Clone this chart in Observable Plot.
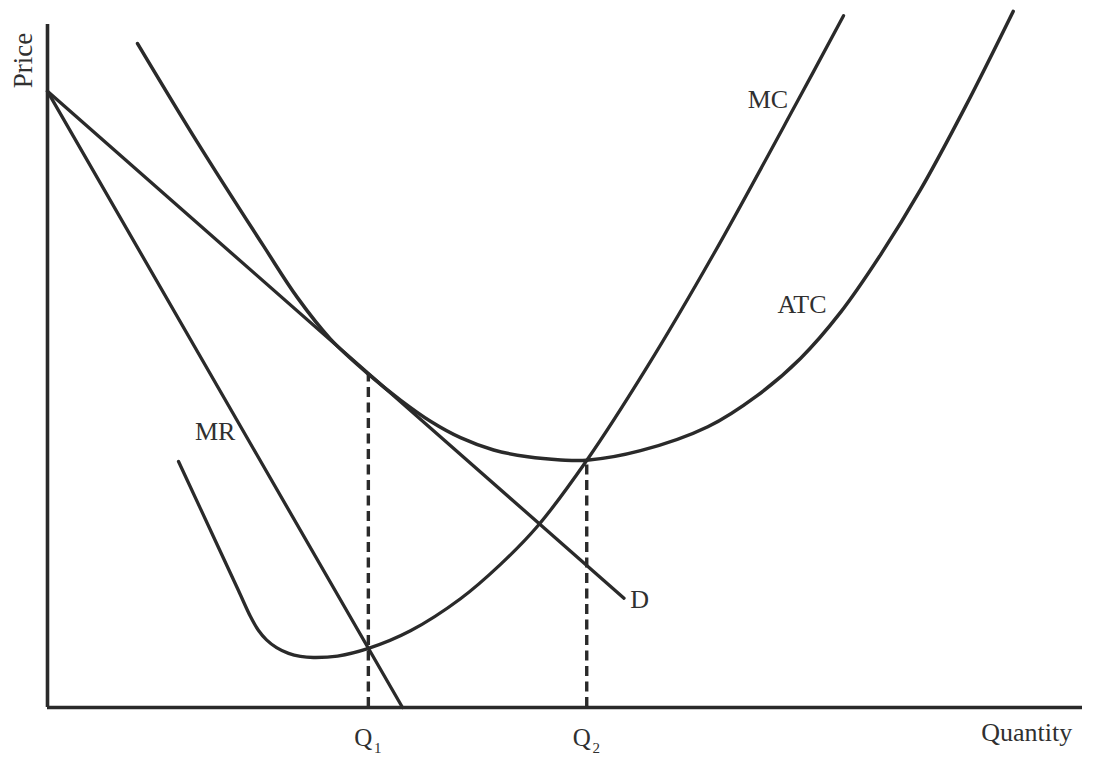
<!DOCTYPE html>
<html>
<head>
<meta charset="utf-8">
<script src="https://cdn.jsdelivr.net/npm/d3@7"></script>
<script src="https://cdn.jsdelivr.net/npm/@observablehq/plot@0.6"></script>
<style>
  html, body { margin: 0; padding: 0; background: #fff; }
  #chart svg { display: block; }
</style>
</head>
<body>
<div id="chart"></div>
<script>
// Quantity / price coordinates (arbitrary units, axes 0–100)
const demand = [ {q: 0, p: 90.2}, {q: 55.7, p: 16.0} ];
const marginalRevenue = [ {q: 0, p: 90.2}, {q: 34.3, p: 0} ];
const atcQ = [8.7, 14.5, 20.9, 24.15, 27.3, 31.0, 34.1, 37.0, 39.9, 43.1, 46.4, 49.6, 52.1, 57.3, 63.8, 68.6, 72.75, 76.6, 80.5, 84.35, 88.7, 93.3];
const atcP = [97.2, 82.7, 67.5, 60.0, 54.0, 48.8, 45.0, 41.9, 39.5, 37.7, 36.7, 36.25, 36.2, 37.6, 41.1, 45.7, 51.1, 57.8, 66.3, 75.8, 88.0, 101.9];
const mcQ = [12.66, 16.43, 18.45, 19.61, 20.39, 21.16, 22.13, 23.29, 24.44, 25.7, 28.02, 31.01, 35.07, 39.9, 43.77, 47.34, 52.08, 57.97, 64.35, 72.46, 76.91];
const mcP = [36.02, 23.72, 17.13, 13.32, 11.27, 9.9, 8.76, 7.92, 7.48, 7.32, 7.53, 8.65, 11.23, 15.92, 20.95, 26.53, 36.12, 49.93, 66.35, 88.74, 101.27];
const quantities = [ {name: "1", q: 31.0, p: 48.8}, {name: "2", q: 52.1, p: 36.2} ];
const curveLabels = [
  {text: "MC", q: 69.6, p: 87.8},
  {text: "ATC", q: 72.9, p: 57.7},
  {text: "MR", q: 16.2, p: 39.1}
];
const demandLabel = [ {text: "D", q: 56.3, p: 14.5} ];
const axisTitles = {x: "Quantity", y: "Price"};

const atc = atcQ.map((q, i) => ({q, p: atcP[i]}));
const mc = mcQ.map((q, i) => ({q, p: mcP[i]}));

const ink = "#2a2a2a";
const textInk = "#303030";
const font = "Liberation Serif, Times New Roman, serif";

const chart = Plot.plot({
  width: 1099,
  height: 762,
  marginLeft: 47,
  marginRight: 17,
  marginTop: 0,
  marginBottom: 55,
  x: {domain: [0, 100], axis: null},
  y: {domain: [0, 103.5], axis: null},
  style: {fontFamily: font, background: "#fff"},
  marks: [
    // axes
    Plot.ruleX([0], {y1: 0, y2: 100, stroke: ink, strokeWidth: 3.6}),
    Plot.ruleY([0], {x1: 0, x2: 100, stroke: ink, strokeWidth: 3.6}),
    // dashed quantity guides
    Plot.ruleX(quantities, {x: "q", y1: 0, y2: "p", stroke: ink, strokeWidth: 3.4, strokeDasharray: "10,5.5"}),
    // curves
    Plot.line(demand, {x: "q", y: "p", stroke: ink, strokeWidth: 3.3}),
    Plot.line(marginalRevenue, {x: "q", y: "p", stroke: ink, strokeWidth: 3.3}),
    Plot.line(atc, {x: "q", y: "p", stroke: ink, strokeWidth: 3.5, curve: "catmull-rom"}),
    Plot.line(mc, {x: "q", y: "p", stroke: ink, strokeWidth: 3.3, curve: "catmull-rom"}),
    // curve labels
    Plot.text(curveLabels, {x: "q", y: "p", text: "text", textAnchor: "middle", lineAnchor: "bottom", fontSize: 26, fill: textInk}),
    Plot.text(demandLabel, {x: "q", y: "p", text: "text", textAnchor: "start", lineAnchor: "bottom", fontSize: 26, fill: textInk}),
    // quantity tick labels Q1, Q2
    Plot.text(quantities, {x: "q", y: 0, text: () => "Q", dx: -5, dy: 38, lineAnchor: "bottom", fontSize: 25, fill: textInk}),
    Plot.text(quantities, {x: "q", y: 0, text: "name", dx: 9.5, dy: 45, lineAnchor: "bottom", fontSize: 15, fill: textInk}),
    // axis titles
    Plot.text([axisTitles.x], {x: 99, y: 0, text: d => d, textAnchor: "end", dy: 33, lineAnchor: "bottom", fontSize: 26, fill: textInk}),
    Plot.text([axisTitles.y], {x: -2.3, y: 94.7, text: d => d, rotate: -90, textAnchor: "middle", lineAnchor: "middle", fontSize: 27, fill: textInk})
  ]
});
document.getElementById("chart").appendChild(chart);
</script>
</body>
</html>
